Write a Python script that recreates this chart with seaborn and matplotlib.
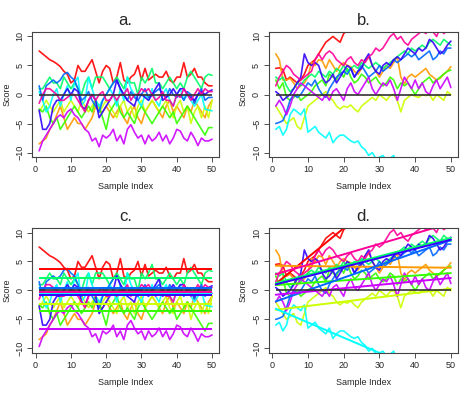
import numpy as np
import pandas as pd
import matplotlib
matplotlib.use("Agg")
import matplotlib.pyplot as plt
import seaborn as sns

sns.set_style("white")
plt.rcParams['font.family'] = ['Liberation Sans', 'DejaVu Sans']

sample_index = list(range(1, 51))
series_names = ["red", "orange", "yellow", "green", "springgreen",
                "cyan", "azure", "blueviolet", "purple", "pink"]
colors = ["#FF0000", "#FF9900", "#CCFF00", "#33FF00", "#00FF66",
          "#00FFFF", "#0066FF", "#3300FF", "#CC00FF", "#FF0099"]

# Panel a / c : stationary series
a_red = [7.5,7,6.5,6,5.7,5.3,4.8,4,3.5,2,2.5,5,4,4,5,6,4,2,4,5,4.5,2,3,5.5,2.5,2,3,3.5,5,2.5,
         4.5,2.5,3,3.5,3,3,4,2.5,2,3,3,5.5,3,3.5,4.5,3,3,2,1.5,1.5]
a_orange = [-8.5,-8,-7.5,-6,-5,-3.5,-2,-4,-6,-5,-4,-5,-5,-6,-5,-4,-2,-3,-3,-2,-3,-4,-3,-2,-4,
            -5,-3,-2,-4,-5,-3,-2,-1,-2,-3,-4,-2,-1,-3,-2,-3,-4,-2,-3,-1,-2,-3,-4,-2,-1]
a_yellow = [-3,-2,-1,-2,-3,-2,-1,-3,-2,-1,-2,-3,-1,-2,-3,-2,-1,-3,-2,-1,-2,-3,-4,-2,-1,-3,-2,-4,
            -2,-1,-3,-2,-1,-2,-3,-2,-1,-3,-4,-2,-1,-3,-2,-5,-3,-2,-4,-2,-4,-1]
a_green = [-2.5,-3,-2,-4,-5,-4,-6,-5,-4,-3,-2,-3,-4,-3,-2,-3,-1,-2,-4,-6,-3,-2,-1,-3,-4,-3,-4,
           -5,-3,-2,-3,-4,-5,-4,-3,-2,-3,-4,-3,-5,-4,-3,-2,-3,-4,-5,-6,-7,-5.7,-5.7]
a_springgreen = [1,1,2,3,2,2,1,3,2,1,2,1,0,2,3,1,3,3,3,2,1,2,3,2,1,3,2,2,0,3,2,3,4.5,2,2,1,2,3,
                 2,1,2,1,3,4,3,2,1,3,3.5,3.3]
a_cyan = [0.5,-1,-3,-2,0,1,-2,0,1.5,-1,2,3,-2,-1,3,1,-1,-2,-1,0,1,0,-2,1,-1,3,1,0,-1,-2,0,-1,1,
          -1,-2,0,1,-1,-2,0,1,-1,0,-1,-2,-1,0,-2.5,-2.7,-2.8]
a_azure = [1.5,-1,1.5,2,2.5,2,2.5,3.5,3.8,3,2.5,1,-1,-0.5,0.5,-1,-2,-3,-1,0,1,2,2.5,1,0,-1,0.5,
           -0.5,-1,0,1,-0.5,0,0.5,1,0,-0.5,1,0,-0.5,0,-1,0.5,0,-1.5,0,1,-1,-0.5,-0.5]
a_blueviolet = [-2.7,-6,-6,-5,-2,-1,-1,0,1,0,1,0.5,-2,-2.5,-1,0,-1,-4,-3,-2,-1,0,2.5,1,0,-1,-1.5,
                -2,0,0,-0.5,-1,0,1,2,-1,-0.5,0,1,0,1,1,0,-0.5,-1,0,0.5,0,0.5,0.8]
a_purple = [-9.7,-8,-7,-6,-5,-4,-3.5,-4,-3,-2.5,-3.5,-4,-5,-6,-6.5,-8,-7.5,-9,-7,-7.5,-7,-6,-8,-7,
            -8.5,-6,-5.2,-6.5,-7.5,-7,-8.5,-7,-8,-7.5,-6.5,-8,-7,-8.5,-7.5,-6,-6.3,-7.5,-8,-6.5,
            -7.5,-8.8,-7.5,-8,-8,-7.7]
a_pink = [-1.5,0,1,1,0.5,0,-1,-1,-0.5,0,0,-1,-2,-3,-1,0,-1,0,0.5,-1,-1,0,-1,0,0,1,-1,0,0,1,0.5,
          1,0,-1,-0.5,0.5,-1,-1,-2,0,-0.5,1,0,-1,0,1,0,1,0.5,0.5]

# Panel b / d : trending series
b_red = [4.5,4.6,4.3,2.5,3,2.5,2,2.5,3.5,5,5.5,6,7,8,9,9.5,10,9.5,9,10.5,11,11.5,12,12.5,13,
         13.5,14,14.5,15,16,16.5,17,17.5,18,18.5,19,19.5,20,20.5,21,21.5,22,22.5,23,23.5,24,
         24.5,25,25.5,26]
b_orange = [7,6,2.5,2.5,2.8,2,1,1.5,2,3,5.5,5,6,5.8,4.5,6,5,4,5,5.5,5,4.8,4,3.5,4.5,6,6.5,5,4,
            3,4,5,4.5,5.5,6.5,3,1.8,3,3.5,3,3.5,4,4.5,3.5,3,2.5,2.8,3.5,4,4.8]
b_yellow = [-2,-3,-4,-5,-4.5,-4,-5.5,-6,-4,-2,-1.5,-1,-0.5,0,0.5,-0.5,-1,-2,-2.5,-2,-2.2,-1.8,
            -2.5,-3,-2,-1.5,-1,-0.5,-1,0,-0.5,-1,-0.2,0,-1,-3,-1,-0.5,0,-0.3,-0.5,0,-0.2,0,-1,0,
            -0.5,-1,0.5,0]
b_green = [2.5,1,2,-0.5,-1,-0.5,0,-1,-0.5,0,0.5,1.5,2,2.5,1.5,3.5,3,2.5,4,3,4.5,3,2,2.5,3.5,3,2,
           2.5,3,2,1.5,2,3,2.5,1,2,1.5,2,1,0,1,2,2.5,3,2,2.5,3,3.5,4,4.2]
b_springgreen = [3,2.5,3,1.5,0.5,1,2,1.5,2.5,3,3.5,3,4,3.5,3,4,3.5,4.5,4,5,4,4.5,5,4.5,5.5,5,4.5,
                 5,5.5,5,4.5,5,5.5,6,6.5,7,7.5,7,8,7.5,8,8.5,8,9,9.5,9,8.5,9.5,9,8.5]
b_cyan = [-6,-5.5,-7,-6,-3.5,-2.5,-3,-3.5,-2.5,-6.5,-6,-5.5,-6.5,-7,-7.5,-6.5,-8.3,-7.5,-7,-7,
          -7.5,-8,-8.3,-8,-9,-9.5,-10.5,-10,-11,-10.8,-10.5,-11.5,-11,-10.5,-12,-12.5,-12,-13,
          -13.5,-13,-14,-14.5,-14,-15,-15.5,-15,-16,-16.5,-16,-17]
b_azure = [-5,-4.8,-4.5,-3,-1,0,-0.5,0,1,2,1.5,2.5,1,0,-0.5,1,2,3,3.5,4,3.5,4.5,3,4,5,4,3,3.5,4,
           5,4,4.5,5,6,5.5,6,6.5,7,6.5,7,6,6.5,7,7.5,6,6.5,7.5,7,8,8]
b_blueviolet = [0.5,0,-1,-0.5,0,1,2,3,7,5.5,5,5.5,5,3,2,2.5,3.5,2,3,4,5,4.5,3,4,4.5,6,7,5,4,3.5,
                5,5.5,5,6,6.5,6,7,8,7.5,7,8,7.5,8,9.5,9,8,7,7.5,8.5,9.2]
b_purple = [-2,-1,-2,-3.5,-2,0,1,2,1.5,1,0.5,0,-0.5,-1,0,-1,0.5,1,0,-1,1,2,0.5,0,1,2,3,1,0,1,2,
            1.5,2.5,1,-1,1,3,2,1,2.5,1,2,0.5,0,1.5,2.5,1,2,3,1.2]
b_pink = [1.5,3,4,5,4.5,3.5,3,2.5,3,3.5,4,6,7,6,7,7.5,7,6,5.5,5,6,6.5,5.5,5,6,5.5,6.5,7,8,7.5,8,
          9,10,10.5,9.5,10,9,8.5,9.5,10,10.5,11,10.5,11.5,10.8,10,11.5,10.5,11,12]

A = [a_red, a_orange, a_yellow, a_green, a_springgreen, a_cyan, a_azure, a_blueviolet, a_purple, a_pink]
B = [b_red, b_orange, b_yellow, b_green, b_springgreen, b_cyan, b_azure, b_blueviolet, b_purple, b_pink]
titles = ["a.", "b.", "c.", "d."]


def long_df(series):
    rows = []
    for name, vals in zip(series_names, series):
        for x, v in zip(sample_index, vals):
            rows.append((name, x, v))
    return pd.DataFrame(rows, columns=["series", "idx", "score"])


dfA = long_df(A)
dfB = long_df(B)

fig = plt.figure(figsize=(4.74, 3.93), dpi=100)
positions = [[0.068, 0.600, 0.394, 0.319], [0.567, 0.600, 0.399, 0.319],
             [0.068, 0.102, 0.394, 0.318], [0.567, 0.102, 0.399, 0.318]]
pal = dict(zip(series_names, colors))
LW = 1.2

for k, pos in enumerate(positions):
    ax = fig.add_axes(pos)
    df = dfA if k in (0, 2) else dfB
    sns.lineplot(data=df, x="idx", y="score", hue="series", palette=pal,
                 estimator=None, legend=False, lw=LW, alpha=0.9, ax=ax)
    ax.hlines(0, 1, 50, color="#333333", lw=LW, zorder=3)
    if k == 2:
        for name in series_names:
            m = df.loc[df.series == name, "score"].mean()
            ax.hlines(m, 1, 50, color=pal[name], lw=LW + 0.2, zorder=4)
    if k == 3:
        for name in series_names:
            sub = df[df.series == name]
            sns.regplot(data=sub, x="idx", y="score", scatter=False, ci=None,
                        color=pal[name], line_kws={"lw": LW + 0.2}, ax=ax)
    ax.set_xlim(-0.96, 51.96)
    ax.set_ylim(-10.8, 10.8)
    ax.set_xticks([0, 10, 20, 30, 40, 50])
    ax.set_yticks([-10, -5, 0, 5, 10])
    ax.tick_params(axis="both", direction="out", length=3.5, width=0.6,
                   labelsize=6.5, color="#333333", pad=2,
                   bottom=True, left=True)
    for lab in ax.get_yticklabels():
        lab.set_rotation(90)
        lab.set_va("center")
    for s in ax.spines.values():
        s.set_color("#444444")
        s.set_linewidth(0.8)
    ax.set_xlabel("Sample Index", fontsize=6.5, labelpad=6)
    ax.set_ylabel("Score", fontsize=6.5, labelpad=3)
    ax.set_title(titles[k], fontsize=12, pad=5)

fig.savefig("out.png", dpi=100)
